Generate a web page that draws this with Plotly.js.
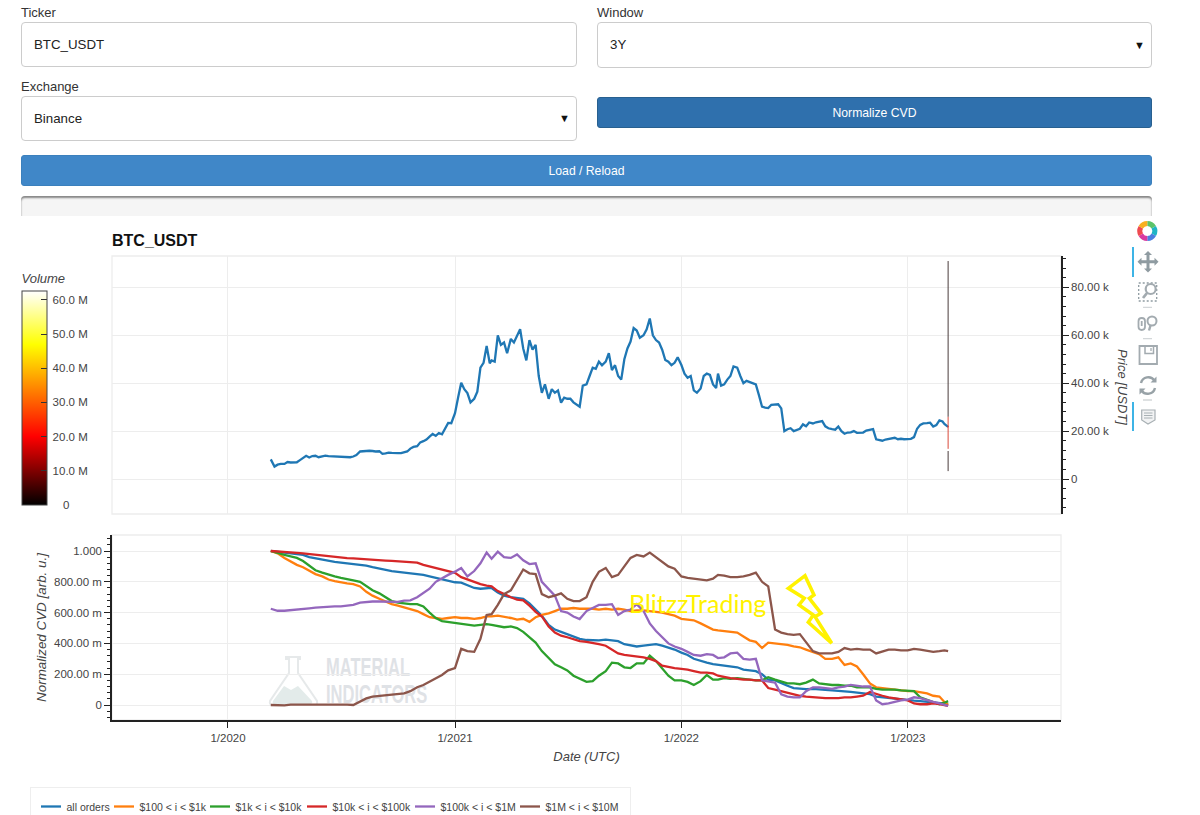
<!DOCTYPE html>
<html><head><meta charset="utf-8">
<script src="https://cdn.plot.ly/plotly-3.0.1.min.js"></script>
<style>
html,body{margin:0;padding:0;background:#fff;width:1200px;height:815px;overflow:hidden;font-family:"Liberation Sans",Arial,sans-serif;}
#chart{position:absolute;left:0;top:0;width:1200px;height:815px;z-index:1;}
.lab{position:absolute;font-size:13px;color:#333;z-index:2;}
.box{position:absolute;box-sizing:border-box;background:#fff;border:1px solid #ccc;border-radius:4px;font-size:13.3px;color:#222;padding-left:12px;padding-bottom:1px;display:flex;align-items:center;z-index:2;}
.arrow{position:absolute;right:6px;font-size:11px;color:#111;}
.btn{position:absolute;box-sizing:border-box;border-radius:3px;color:#fff;font-size:12.2px;display:flex;align-items:center;justify-content:center;z-index:2;}
#wm{position:absolute;left:0;top:0;z-index:0;}
#wmt{position:absolute;left:326px;top:654px;font-family:"Liberation Sans";font-weight:700;font-size:25px;line-height:27px;color:#dfe2e6;transform:scaleX(.66);transform-origin:left top;white-space:nowrap;z-index:0;}
#tools{position:absolute;left:1125px;top:215px;z-index:2;}
</style></head><body>
<div class="lab" style="left:21px;top:5px">Ticker</div>
<div class="box" style="left:21px;top:22px;width:556px;height:45px">BTC_USDT</div>
<div class="lab" style="left:597px;top:5px">Window</div>
<div class="box" style="left:597px;top:22px;width:555px;height:46px">3Y<span class="arrow">▼</span></div>
<div class="lab" style="left:21px;top:79px">Exchange</div>
<div class="box" style="left:21px;top:96px;width:556px;height:45px">Binance<span class="arrow">▼</span></div>
<div class="btn" style="left:597px;top:97px;width:555px;height:31px;background:#2f70ad;border:1px solid #28608f">Normalize CVD</div>
<div class="btn" style="left:21px;top:155px;width:1131px;height:31px;background:#4087c8;border:1px solid #3b80bd">Load / Reload</div>
<div style="position:absolute;left:21px;top:196px;width:1131px;height:20px;background:#f5f5f5;border-radius:4px 4px 0 0;box-shadow:inset 0 2px 2px rgba(0,0,0,.45);z-index:2"></div>

<svg id="wm" width="1200" height="815">
 <path d="M286 657h14v2h-2v14l19 28q1 4-3 4h-41q-4 0-3-4l19-28v-14h-3z" fill="none" stroke="#e6e9ea" stroke-width="2"/>
 <path d="M273 701l11-15 7 4 7-4 14 15q1 3-2 3h-36q-2 0-1-3z" fill="#e3ebea"/>
</svg>
<div id="wmt">MATERIAL<br>INDICATORS</div>

<svg id="tools" width="40" height="225" viewBox="0 0 40 225">
 <g fill="none" stroke-width="5">
  <path d="M22.300 8.500a7.500 7.500 0 0 1 6.500 3.750" stroke="#5cc36a"/><path d="M28.800 12.250a7.500 7.500 0 0 1 0 7.500" stroke="#1fb5c5"/>
  <path d="M28.800 19.750a7.500 7.500 0 0 1-6.500 3.750" stroke="#4a7fe0"/><path d="M22.300 23.500a7.500 7.500 0 0 1-6.500-3.750" stroke="#d83aa0"/>
  <path d="M15.800 19.750a7.500 7.500 0 0 1 0-7.500" stroke="#ef4a50"/><path d="M15.800 12.250a7.500 7.500 0 0 1 6.500-3.750" stroke="#f8b020"/>
 </g>
 <rect x="7" y="32" width="2" height="30" fill="#3db4e6"/><rect x="7" y="187" width="2" height="29" fill="#3db4e6"/>
 <g fill="none" stroke="#a3abb0" stroke-width="2">
  <path d="M23 38v17.500M14.300 46.700h17.500" stroke="#8f9ba1" stroke-width="3"/>
  <path d="M23 36l-4 4h8zM23 57.500l-4-4h8zM12.500 46.700l4-4v8zM33.500 46.700l-4-4v8z" fill="#8f9ba1" stroke="none"/>
  <rect x="13.700" y="68" width="18" height="18" stroke-dasharray="2 2" stroke-width="1.300" stroke="#8f9ba1"/>
  <circle cx="25.700" cy="74" r="5" fill="#fff" stroke-width="2.200"/><path d="M22 78l-4 5" stroke-width="2.800"/>
  <rect x="13.500" y="103" width="6.500" height="12" rx="3.200" stroke-width="1.800"/><rect x="15.800" y="106" width="1.800" height="5" fill="#a3abb0" stroke="none"/>
  <circle cx="27" cy="106" r="4.500"/><path d="M25.500 110.500l-1.500 5" stroke-width="2.400"/>
  <path d="M14.500 131h17.500v18h-17.500z" stroke-width="1.800"/><path d="M20 131v7.500h8.500v-7.500" stroke-width="1.500"/><path d="M26 133v3" stroke-width="1.300"/>
  <path d="M16 168a7.500 7.500 0 0 1 13.500-2.500M30 173a7.500 7.500 0 0 1-13.500 2.500" stroke-width="2.400" stroke="#98a2a7"/>
  <path d="M31.500 161.500v6h-6zM14.500 179.500v-6h6z" fill="#98a2a7" stroke="none"/>
  <path d="M16.700 195h13.300v10l-7 4-6.300-4z" fill="#f2f3f4" stroke="#a8b0b4" stroke-width="1.200"/><path d="M19 198h8.500M19 200.500h8.500M19 203h8.500" stroke="#a8b0b4" stroke-width="1"/>
  <path d="M18 92.300h9M18 123.700h9M18 185h9" stroke="#d3d7d9" stroke-width="1.300"/>
 </g>
</svg>

<div id="chart"></div>
<script>
// ---------- dates (sampling of the lines) ----------
const years = [2020,2021,2022,2023];
const months = ["01","02","03","04","05","06","07","08","09","10","11","12"];
function sampleDates(days, tail){
  const out = ["2020-03-10"];
  for (const y of years) for (const m of months) for (const d of days){
    const s = y+"-"+m+"-"+d;
    if (s > "2020-03-11" && s <= "2023-03-01") out.push(s);
  }
  return out.concat(tail);
}
const priceDates = sampleDates(["01","06","11","16","21","26"], ["2023-03-06","2023-03-07"]);
const cvdDates = sampleDates(["01","11","21"], ["2023-03-07"]);

// ---------- price, thousands of USDT ----------
const priceK = [
 8.2,5.2,6.0,6.3,6.3,7.1,6.9,7.1,7.0,7.9,8.8,9.7,9.0,9.6,9.7,9.1,9.5,9.8,9.6,9.5,
 9.5,9.3,9.1,9.0,9.05,9.1,9.4,10.0,11.5,11.6,11.9,11.8,11.7,11.5,11.6,10.5,10.7,11.0,10.9,10.7,
 10.8,10.8,11.3,11.5,12.7,13.4,13.7,15.3,15.8,16.5,17.7,18.8,18.0,19.2,18.7,21,23.4,23.3,27.5,34.0,
 40.2,37.5,35.9,32,33.5,36.5,46.5,48.5,55.5,48.3,49.5,49,60,56,57,52.5,58.5,57,60,62.5,
 54.5,49.5,58,54,56,43,36,39.5,33.5,37.5,36,37,31.9,34,33.5,33.5,32,31,30.2,39,
 39.5,43,46.5,46,49,47.5,49,52.5,45.5,47.5,43,41.5,50,54.5,57.4,63,62,59,60,62.5,
 67,60,58,57,54,49.7,49,47.5,48.5,50.8,47.6,44,42.3,43,37,36,37.8,43,44,43.5,
 39.5,38,44,39,39.5,41.5,43,47,46.5,43,40,41,40.5,40,39.5,35,30.2,29.8,29.6,31,
 31,31.2,29.5,20,20.8,21.2,20,20.6,21,22.8,22,23.6,23.2,23.7,24,24.2,22,21.2,20.8,20.6,
 21.9,20,18.9,19.4,19.5,20,19.3,19.2,19.4,20.2,20.4,20.8,16.6,16.4,16,16.5,16.8,16.9,17.2,16.6,
 16.8,16.6,16.7,16.8,17.5,21,22.6,23.2,23.3,23.5,21.9,22.5,24.5,24,23,22,21.8];

// ---------- normalized CVD by order size ----------
const cvdAll = [
 1,.997,.99,.985,.98,.975,.96,.952,.945,.938,.93,.925,.92,.915,.91,.905,.895,.885,.875,.87,
 .865,.86,.855,.85,.845,.835,.825,.815,.805,.797,.795,.78,.76,.755,.76,.76,.73,.71,.70,.695,
 .69,.66,.62,.58,.52,.49,.475,.46,.445,.43,.422,.42,.42,.425,.42,.415,.395,.385,.38,.385,
 .39,.395,.385,.375,.36,.34,.325,.30,.285,.275,.265,.26,.255,.25,.245,.23,.225,.22,.20,.165,
 .16,.14,.125,.11,.105,.103,.105,.10,.098,.095,.09,.088,.085,.08,.075,.07,.055,.05,.045,.04,
 .035,.03,.028,.025,.02,.015,.012,.01,.008];
const cvd100to1k = [
 1,.985,.955,.93,.91,.895,.875,.85,.835,.815,.805,.795,.79,.785,.77,.735,.71,.69,.67,.655,
 .645,.635,.62,.61,.59,.57,.565,.56,.565,.57,.565,.565,.56,.565,.575,.575,.58,.575,.565,.555,
 .56,.54,.57,.585,.595,.61,.625,.625,.63,.625,.625,.625,.62,.625,.62,.625,.62,.61,.615,.615,
 .61,.605,.60,.59,.58,.56,.555,.55,.53,.51,.49,.485,.48,.475,.47,.445,.42,.41,.37,.405,
 .40,.395,.39,.38,.375,.36,.345,.33,.30,.30,.31,.26,.27,.25,.20,.14,.115,.11,.105,.10,
 .095,.09,.09,.085,.075,.06,.055,.02,0];
const cvd1kto10k = [
 1,.985,.975,.965,.955,.935,.905,.875,.86,.845,.835,.825,.815,.81,.80,.775,.745,.725,.70,.675,
 .665,.66,.655,.655,.64,.60,.565,.545,.54,.535,.53,.525,.515,.52,.525,.52,.51,.505,.51,.50,
 .475,.44,.405,.35,.305,.265,.245,.225,.19,.17,.15,.155,.19,.22,.275,.27,.245,.24,.27,.27,
 .32,.285,.24,.19,.16,.16,.15,.13,.155,.195,.165,.165,.175,.17,.175,.17,.165,.16,.16,.18,
 .165,.155,.14,.14,.135,.145,.165,.14,.135,.13,.13,.125,.125,.115,.115,.115,.105,.10,.10,.10,
 .095,.09,.09,.05,.035,.02,.005,.015,.025];
const cvd10kto100k = [
 1,.998,.995,.992,.988,.985,.98,.975,.97,.965,.96,.957,.954,.952,.95,.947,.944,.941,.938,.936,
 .934,.932,.93,.925,.91,.90,.89,.875,.865,.858,.83,.815,.80,.785,.775,.77,.74,.72,.70,.685,
 .68,.645,.605,.575,.51,.47,.45,.44,.425,.415,.41,.40,.395,.385,.36,.335,.325,.32,.315,.31,
 .30,.285,.255,.245,.24,.235,.23,.22,.21,.21,.205,.19,.18,.175,.17,.165,.165,.16,.16,.11,
 .10,.09,.08,.065,.06,.055,.05,.05,.045,.045,.045,.05,.05,.055,.06,.085,.07,.06,.05,.045,
 .04,.03,.01,.005,.005,.01,.005,0,-.005];
const cvd100kto1M = [
 .625,.612,.612,.615,.62,.623,.628,.632,.636,.636,.64,.64,.645,.65,.665,.67,.672,.672,.672,.672,
 .67,.678,.68,.70,.725,.755,.80,.825,.845,.866,.89,.835,.87,.92,.99,.95,.996,.96,.955,.978,
 .94,.915,.92,.80,.75,.71,.61,.60,.575,.558,.61,.63,.65,.65,.655,.585,.61,.62,.655,.61,
 .53,.48,.44,.40,.38,.365,.345,.325,.32,.33,.325,.305,.31,.335,.34,.30,.295,.30,.16,.155,
 .145,.07,.055,.05,.05,.09,.115,.115,.11,.105,.115,.12,.13,.125,.12,.12,.03,.005,.01,.02,
 .03,.035,.05,.045,.03,.02,.01,0,-.005];
const cvd1Mto10M = [
 0,-.002,-.002,.002,.002,.006,.004,.006,.006,.004,.004,.002,.002,0,.02,.043,.055,.06,.065,.065,
 .07,.075,.09,.115,.13,.15,.175,.195,.225,.24,.365,.35,.345,.43,.585,.59,.65,.72,.745,.81,
 .88,.855,.85,.72,.70,.71,.725,.69,.675,.675,.70,.80,.865,.89,.83,.845,.90,.955,.975,.965,
 .99,.96,.925,.90,.885,.835,.825,.82,.815,.81,.82,.845,.84,.83,.83,.835,.845,.86,.80,.77,
 .49,.47,.46,.455,.46,.41,.35,.335,.335,.335,.345,.37,.36,.365,.36,.36,.335,.35,.36,.36,
 .355,.355,.365,.36,.35,.345,.35,.355,.35];

const seriesNames = ["all orders","$100 < i < $1k","$1k < i < $10k","$10k < i < $100k","$100k < i < $1M","$1M < i < $10M"];
const seriesValues = [cvdAll,cvd100to1k,cvd1kto10k,cvd10kto100k,cvd100kto1M,cvd1Mto10M];
const seriesColors = ["#1f77b4","#ff7f0e","#2ca02c","#d62728","#9467bd","#8c564b"];

// ---------- the last candle, coloured by volume ----------
const lastDate = "2023-03-07";
const lastRangeLow = [3.3,11.7];
const lastRangeMid = [12.6,26];
const lastRangeHigh = [26,91];
const lastVolumeM = [21];

// ---------- ticks ----------
const yearTicks = ["2020-01-01","2021-01-01","2022-01-01","2023-01-01"];
const yearLabels = ["1/2020","1/2021","1/2022","1/2023"];
const priceTicks = [0,20,40,60,80];
const priceLabels = ["0","20.00 k","40.00 k","60.00 k","80.00 k"];
const priceMinor = [-12,-8,-4,4,8,12,16,24,28,32,36,44,48,52,56,64,68,72,76,84,88,92];
const cvdTicks = [0,.2,.4,.6,.8,1];
const cvdLabels = ["0","200.00 m","400.00 m","600.00 m","800.00 m","1.000"];
const cvdMinor = [-.08,-.04,.04,.08,.12,.16,.24,.28,.32,.36,.44,.48,.52,.56,.64,.68,.72,.76,.84,.88,.92,.96,1.04,1.08];
const volumeTicks = [0,10,20,30,40,50,60];
const volumeLabels = ["\u00A0\u00A0\u00A0\u00A00","\u200910.0 M","\u200920.0 M","\u200930.0 M","\u200940.0 M","\u200950.0 M","\u200960.0 M"];

const W = 1200, H = 815;
const px = x => x/W, py = y => 1-y/H;
const FONT = '"Liberation Sans",Arial,sans-serif';
const GRID = "#ededed";
const tickFont = {family:FONT,size:11.5,color:"#444"};
const LW = 2.3;

const traces = [
 {x:priceDates,y:priceK,xaxis:"x2",yaxis:"y2",mode:"lines",line:{color:"#1f77b4",width:LW},showlegend:false,name:"Price"},
 {x:[lastDate,lastDate],y:lastRangeLow,xaxis:"x2",yaxis:"y2",mode:"lines",line:{color:"#4a3c3c",width:1},showlegend:false},
 {x:[lastDate,lastDate],y:lastRangeMid,xaxis:"x2",yaxis:"y2",mode:"lines",line:{color:"#d9483a",width:1},showlegend:false},
 {x:[lastDate,lastDate],y:lastRangeHigh,xaxis:"x2",yaxis:"y2",mode:"lines",line:{color:"#4a3c3c",width:1},showlegend:false},
 {x:[lastDate],y:[21.8],xaxis:"x2",yaxis:"y2",mode:"markers",showlegend:false,name:"Volume",
  marker:{size:1,color:lastVolumeM,cmin:0,cmax:62.6,
   colorscale:[[0,"#000000"],[.32,"#ff0000"],[.75,"#ffff00"],[1,"#ffffff"]],showscale:true,
   colorbar:{x:px(22),xanchor:"left",xpad:0,ypad:0,y:py(271),yanchor:"top",yref:"paper",
    thicknessmode:"pixels",thickness:25,lenmode:"pixels",len:233.5,
    outlinecolor:"#444",outlinewidth:1,ticks:"inside",ticklen:6,tickcolor:"#333",tickwidth:1,
    tickmode:"array",tickvals:volumeTicks,ticktext:volumeLabels,tickfont:tickFont,
    title:{text:"<i>Volume</i>",side:"top",font:{family:FONT,size:13,color:"#444"}}}}},
];
seriesNames.forEach((n,i)=>traces.push({x:cvdDates,y:seriesValues[i],xaxis:"x",yaxis:"y",mode:"lines",
  name:n,line:{color:seriesColors[i],width:LW}}));

const boltPts = [[788.3,588.3],[805,575.7],[814,595],[809.3,598.3],[821,613.3],[815,616.7],[831.7,643.3],[808.3,622.3],[813.3,615],[799,605],[804.3,598.3]];
const boltPath = "M"+boltPts.map(p=>px(p[0]).toFixed(5)+" "+py(p[1]).toFixed(5)).join("L")+"Z";

const xRange = ["2019-06-28","2023-09-05"];
const xDom = [px(112),px(1061)];
const layout = {
 width:W,height:H,margin:{l:0,r:0,t:0,b:0,autoexpand:false},
 paper_bgcolor:"rgba(0,0,0,0)",plot_bgcolor:"rgba(0,0,0,0)",
 font:{family:FONT,color:"#444"},
 title:{text:"<b>BTC_USDT</b>",x:px(112),xanchor:"left",xref:"paper",y:py(240.5),yanchor:"middle",yref:"paper",font:{family:FONT,size:16,color:"#111"}},
 xaxis:{domain:xDom,range:xRange,type:"date",anchor:"y",tickmode:"array",tickvals:yearTicks,ticktext:yearLabels,
  showline:true,linecolor:"#222",linewidth:1.5,ticks:"outside",ticklen:6,tickcolor:"#222",tickfont:tickFont,
  gridcolor:GRID,gridwidth:1.3,zeroline:false,
  title:{text:"<i>Date (UTC)</i>",font:{family:FONT,size:13,color:"#444"},standoff:9}},
 yaxis:{domain:[py(720),py(535)],range:[-.0974,1.104],anchor:"x",side:"left",tickmode:"array",tickvals:cvdTicks,ticktext:cvdLabels,
  showline:true,linecolor:"#222",linewidth:1.5,ticks:"outside",ticklen:6,tickcolor:"#222",tickfont:tickFont,
  gridcolor:GRID,gridwidth:1.3,zeroline:false,
  minor:{tickmode:"array",tickvals:cvdMinor,ticks:"outside",ticklen:3,tickcolor:"#222",showgrid:false},
  title:{text:"<i>Normalized CVD [arb. u.]</i>",font:{family:FONT,size:13.4,color:"#444"},standoff:4}},
 xaxis2:{domain:xDom,range:xRange,type:"date",anchor:"y2",tickmode:"array",tickvals:yearTicks,showticklabels:false,
  showline:false,ticks:"",gridcolor:GRID,gridwidth:1.3,zeroline:false},
 yaxis2:{domain:[py(514),py(256)],range:[-14.6,93.1],anchor:"x2",side:"right",tickmode:"array",tickvals:priceTicks,ticktext:priceLabels,
  showline:true,linecolor:"#222",linewidth:1.5,ticks:"outside",ticklen:6,tickcolor:"#222",tickfont:tickFont,
  gridcolor:GRID,gridwidth:1.3,zeroline:false,
  minor:{tickmode:"array",tickvals:priceMinor,ticks:"outside",ticklen:3,tickcolor:"#222",showgrid:false}},
 shapes:[
  {type:"rect",xref:"paper",yref:"paper",x0:px(112),x1:px(1061),y0:py(514),y1:py(256),line:{color:GRID,width:1.3},layer:"below"},
  {type:"rect",xref:"paper",yref:"paper",x0:px(112),x1:px(1061),y0:py(720),y1:py(535),line:{color:GRID,width:1.3},layer:"below"},
  {type:"path",xref:"paper",yref:"paper",path:boltPath,line:{color:"#fff200",width:3.5},fillcolor:"rgba(0,0,0,0)",layer:"above"},
 ],
 annotations:[
  {text:"BlitzzTrading",xref:"paper",yref:"paper",x:px(697.5),y:py(603),xanchor:"center",yanchor:"middle",showarrow:false,
   font:{family:"Lato",size:25,color:"#fff200"}},
  {text:"<i>Price [USDT]</i>",xref:"paper",yref:"paper",x:px(1122),y:py(387),xanchor:"center",yanchor:"middle",showarrow:false,textangle:90,
   font:{family:FONT,size:13,color:"#444"}},
 ],
 showlegend:true,
 legend:{orientation:"h",x:px(30),xanchor:"left",y:py(787),yanchor:"top",bgcolor:"#fff",bordercolor:"#eeeeee",borderwidth:1,
  font:{family:FONT,size:10.5,color:"#444"},traceorder:"normal",itemclick:false,itemdoubleclick:false},
};

// the reference's legend packs its entries tighter than Plotly's default spacing
const legendStarts = [41,114,210,307,415,520];
Plotly.newPlot("chart",traces,layout,{displayModeBar:false,responsive:false}).then(gd=>{
  const lg = gd.querySelector(".legend");
  if(!lg) return;
  lg.querySelectorAll(".traces").forEach((t,i)=>{
    t.setAttribute("transform","translate("+(legendStarts[i]-30-5)+",19.5)");
    const p = t.querySelector(".legendlines path");
    if(p) p.setAttribute("d","M5,0h20");
    const tx = t.querySelector("text.legendtext");
    if(tx) tx.setAttribute("x","30.5");
  });
  const bg = lg.querySelector("rect.bg");
  if(bg){ bg.setAttribute("width","600"); bg.setAttribute("height","60"); }
  const clip = gd.querySelectorAll("clipPath[id^='legend'] rect, [id*='legend'] > rect");
  clip.forEach(r=>{ r.setAttribute("width","600"); });
});
</script>
</body></html>
